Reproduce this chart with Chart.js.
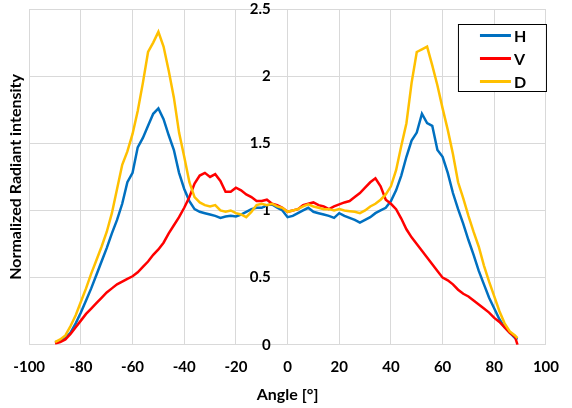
<!DOCTYPE html>
<html>
<head>
<meta charset="utf-8">
<script src="https://cdn.jsdelivr.net/npm/chart.js@4.4.1/dist/chart.umd.min.js"></script>
<style>
  html, body { margin: 0; padding: 0; background: #fff; }
  #wrap { width: 572px; height: 408px; position: relative; }
</style>
</head>
<body>
<div id="wrap"><canvas id="radiantChart"></canvas></div>
<script>
// Angles in degrees (x values shared by all series)
const angles = [
  -90, -88, -86, -84, -82, -80, -78, -76, -74, -72, -70, -68, -66, -64, -62,
  -60, -58, -56, -54, -52, -50, -48, -46, -44, -42, -40, -38, -36, -34, -32,
  -30, -28, -26, -24, -22, -20, -18, -16, -14, -12, -10, -8, -6, -4, -2,
  0, 2, 4, 6, 8, 10, 12, 14, 16, 18, 20, 22, 24, 26, 28,
  30, 32, 34, 36, 38, 40, 42, 44, 46, 48, 50, 52, 54, 56, 58,
  60, 62, 64, 66, 68, 70, 72, 74, 76, 78, 80, 82, 84, 86, 88, 89
];

const seriesLabels = ['H', 'V', 'D'];
const seriesColors = ['#0070C0', '#FF0000', '#FFC000'];

const hValues = [
  0.02, 0.03, 0.05, 0.09, 0.16, 0.24, 0.33, 0.42, 0.52, 0.62, 0.72, 0.83, 0.93, 1.05, 1.21,
  1.28, 1.47, 1.54, 1.63, 1.72, 1.76, 1.68, 1.56, 1.45, 1.28, 1.16, 1.07, 1.01, 0.99, 0.98,
  0.97, 0.96, 0.945, 0.955, 0.96, 0.955, 0.97, 0.99, 1.01, 1.02, 1.02, 1.04, 1.045, 1.02, 1.0,
  0.95, 0.96, 0.98, 1.0, 1.02, 0.99, 0.98, 0.97, 0.96, 0.945, 0.98, 0.96, 0.945, 0.93, 0.91,
  0.93, 0.95, 0.98, 1.0, 1.02, 1.07, 1.15, 1.26, 1.40, 1.52, 1.58, 1.72, 1.65, 1.63, 1.45,
  1.40, 1.28, 1.13, 1.01, 0.90, 0.78, 0.67, 0.55, 0.45, 0.35, 0.27, 0.19, 0.13, 0.09, 0.05, 0.04
];

const vValues = [
  0.01, 0.02, 0.04, 0.08, 0.13, 0.18, 0.23, 0.27, 0.31, 0.35, 0.39, 0.42, 0.45, 0.47, 0.49,
  0.51, 0.54, 0.58, 0.62, 0.67, 0.71, 0.76, 0.83, 0.89, 0.95, 1.02, 1.10, 1.20, 1.26, 1.28,
  1.25, 1.27, 1.22, 1.14, 1.14, 1.17, 1.15, 1.12, 1.10, 1.07, 1.07, 1.08, 1.05, 1.04, 1.02,
  0.99, 1.0, 1.01, 1.04, 1.05, 1.06, 1.04, 1.03, 1.01, 1.03, 1.045, 1.06, 1.07, 1.10, 1.13,
  1.17, 1.21, 1.24, 1.18, 1.08, 1.05, 1.01, 0.94, 0.86, 0.80, 0.75, 0.70, 0.65, 0.60, 0.55,
  0.50, 0.48, 0.45, 0.41, 0.38, 0.36, 0.33, 0.30, 0.27, 0.24, 0.20, 0.17, 0.13, 0.09, 0.06, 0.0
];

const dValues = [
  0.02, 0.04, 0.07, 0.14, 0.22, 0.32, 0.42, 0.53, 0.63, 0.73, 0.84, 0.98, 1.16, 1.34, 1.44,
  1.57, 1.74, 1.95, 2.18, 2.25, 2.33, 2.22, 2.04, 1.84, 1.58, 1.40, 1.21, 1.10, 1.06, 1.04,
  1.03, 1.04, 1.00, 0.99, 1.00, 0.98, 0.97, 0.95, 0.99, 1.04, 1.05, 1.04, 1.05, 1.03, 1.02,
  0.99, 1.0, 1.01, 1.03, 1.045, 1.03, 1.02, 1.01, 1.01, 1.0, 1.01, 1.0, 0.995, 0.99, 0.98,
  1.0, 1.03, 1.05, 1.08, 1.12, 1.18, 1.30, 1.48, 1.65, 1.95, 2.18, 2.20, 2.22, 2.08, 1.93,
  1.76, 1.60, 1.42, 1.21, 1.09, 0.96, 0.84, 0.73, 0.59, 0.47, 0.36, 0.25, 0.16, 0.10, 0.07, 0.05
];

const xTicks = { min: -100, max: 100, step: 20 };
const yTicks = { min: 0, max: 2.5, step: 0.5 };

const FONT = 'Lato';
const gridColor = '#d9d9d9';

function toPoints(values) {
  return angles.map((a, i) => ({ x: a, y: values[i] }));
}

// Legend drawn as a framed box in the upper right of the plot
const boxLegend = {
  id: 'boxLegend',
  afterDatasetsDraw(chart) {
    const { ctx, chartArea } = chart;
    const w = 89, h = 68;
    const x0 = chartArea.right - w + 1, y0 = chartArea.top + 15;
    ctx.save();
    ctx.fillStyle = '#fff';
    ctx.fillRect(x0, y0, w, h);
    ctx.strokeStyle = '#000';
    ctx.lineWidth = 1;
    ctx.strokeRect(x0 + 0.5, y0 + 0.5, w - 1, h - 1);
    ctx.font = 'bold 16px ' + FONT;
    ctx.textBaseline = 'middle';
    ctx.textAlign = 'left';
    chart.data.datasets.forEach((ds, i) => {
      const y = y0 + 11.5 + i * 23;
      ctx.strokeStyle = ds.borderColor;
      ctx.lineWidth = 3;
      ctx.beginPath();
      ctx.moveTo(x0 + 22, y);
      ctx.lineTo(x0 + 53, y);
      ctx.stroke();
      ctx.fillStyle = '#000';
      ctx.fillText(ds.label, x0 + 56, y + 1);
    });
    ctx.restore();
  }
};

const allValues = [hValues, vValues, dValues];

const ctx = document.getElementById('radiantChart').getContext('2d');
const radiantChart = new Chart(ctx, {
  type: 'line',
  data: {
    datasets: seriesLabels.map((label, i) => ({
      label: label,
      data: toPoints(allValues[i]),
      borderColor: seriesColors[i],
      backgroundColor: seriesColors[i],
      borderWidth: 2.5,
      pointRadius: 0,
      tension: 0,
      fill: false,
      order: 2 - i // later series drawn on top, like the original
    }))
  },
  options: {
    responsive: true,
    maintainAspectRatio: false,
    animation: false,
    layout: { padding: { top: 9, right: 24, left: 4, bottom: 4 } },
    plugins: {
      legend: { display: false },
      tooltip: { enabled: false }
    },
    scales: {
      x: {
        type: 'linear',
        min: xTicks.min,
        max: xTicks.max,
        ticks: {
          stepSize: xTicks.step,
          color: '#000',
          font: { family: FONT, size: 15, weight: 'bold' },
          padding: 13,
          maxRotation: 0
        },
        grid: { color: gridColor, drawTicks: false },
        border: { color: gridColor },
        title: {
          display: true,
          text: 'Angle [°]',
          color: '#000',
          font: { family: FONT, size: 16, weight: 'bold' },
          padding: { top: -4, bottom: 0 }
        }
      },
      y: {
        type: 'linear',
        // labels sit just left of the 0° line, like the original
        position: { x: -6.5 },
        min: yTicks.min,
        max: yTicks.max,
        ticks: {
          stepSize: yTicks.step,
          color: '#000',
          font: { family: FONT, size: 15, weight: 'bold' },
          padding: 0,
          callback: (v) => String(v)
        },
        grid: { color: gridColor, drawTicks: false },
        border: { display: false }
      },
      yTitle: {
        type: 'linear',
        axis: 'y',
        position: 'left',
        min: 0,
        max: 1,
        ticks: { display: false },
        grid: { display: false, drawTicks: false },
        border: { display: false },
        title: {
          display: true,
          text: 'Normalized Radiant intensity',
          color: '#000',
          font: { family: FONT, size: 16, weight: 'bold' },
          padding: { top: 2, bottom: 4 }
        }
      }
    }
  },
  plugins: [boxLegend]
});
</script>
</body>
</html>
